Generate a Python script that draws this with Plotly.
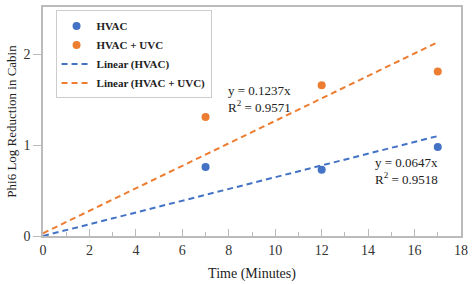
import plotly.graph_objects as go

time_points = [7, 12, 17]
hvac = [0.76, 0.73, 0.98]
hvac_uvc = [1.31, 1.66, 1.81]
trend_x = [0, 17]
slope_hvac = 0.0647
slope_uvc = 0.1237
x_ticks = [0, 2, 4, 6, 8, 10, 12, 14, 16, 18]
y_ticks = [0, 1, 2]

blue = "#4472C4"
orange = "#ED7D31"
font_family = "Liberation Serif, DejaVu Serif, serif"

fig = go.Figure()
fig.add_trace(go.Scatter(x=time_points, y=hvac, mode="markers", name="HVAC",
                         marker=dict(color=blue, size=8)))
fig.add_trace(go.Scatter(x=time_points, y=hvac_uvc, mode="markers", name="HVAC + UVC",
                         marker=dict(color=orange, size=8)))
fig.add_trace(go.Scatter(x=trend_x, y=[slope_hvac * t for t in trend_x], mode="lines",
                         name="Linear (HVAC)", line=dict(color=blue, width=2, dash="6px,4px")))
fig.add_trace(go.Scatter(x=trend_x, y=[0.03 + slope_uvc * t for t in trend_x], mode="lines",
                         name="Linear (HVAC + UVC)", line=dict(color=orange, width=2, dash="6px,4px")))

fig.add_annotation(x=7.9, y=1.51, xref="x", yref="y", text="y = 0.1237x<br>R<sup>2</sup> = 0.9571",
                   showarrow=False, xanchor="left", align="left",
                   font=dict(family=font_family, size=13, color="#222"))
fig.add_annotation(x=17.1, y=0.72, xref="x", yref="y", text="y = 0.0647x<br>R<sup>2</sup> = 0.9518",
                   showarrow=False, xanchor="right", align="left",
                   font=dict(family=font_family, size=13, color="#222"))

fig.update_layout(
    width=474, height=284,
    margin=dict(l=43, r=13, t=7, b=48),
    paper_bgcolor="white", plot_bgcolor="white",
    font=dict(family=font_family, size=13, color="#333"),
    showlegend=True,
    legend=dict(x=0.03, y=0.985, xanchor="left", yanchor="top",
                bgcolor="white", bordercolor="#ccc", borderwidth=1,
                font=dict(family=font_family, size=11, color="#222", weight="bold"),
                tracegroupgap=0, itemwidth=30),
    xaxis=dict(range=[0, 18], tickvals=x_ticks, showgrid=False, zeroline=False,
               showline=True, linecolor="#bbb", linewidth=1.5, mirror=True,
               ticks="inside", ticklen=7, tickcolor="#bbb", automargin=False,
               minor=dict(dtick=1, tick0=0, ticks="inside", ticklen=4, tickcolor="#bbb"),
               title=dict(text="Time (Minutes)", font=dict(size=14, color="#222"), standoff=12),
               tickfont=dict(size=14, color="#333")),
    yaxis=dict(range=[0, 2.52], tickvals=y_ticks, showgrid=False, zeroline=False,
               showline=True, linecolor="#bbb", linewidth=1.5, mirror=True,
               ticks="outside", ticklen=8, tickcolor="#bbb", automargin=False,
               title=dict(text="Phi6 Log Reduction in Cabin", font=dict(size=13, color="#222"), standoff=4),
               tickfont=dict(size=14, color="#333")),
)

fig.write_html("out.html")
